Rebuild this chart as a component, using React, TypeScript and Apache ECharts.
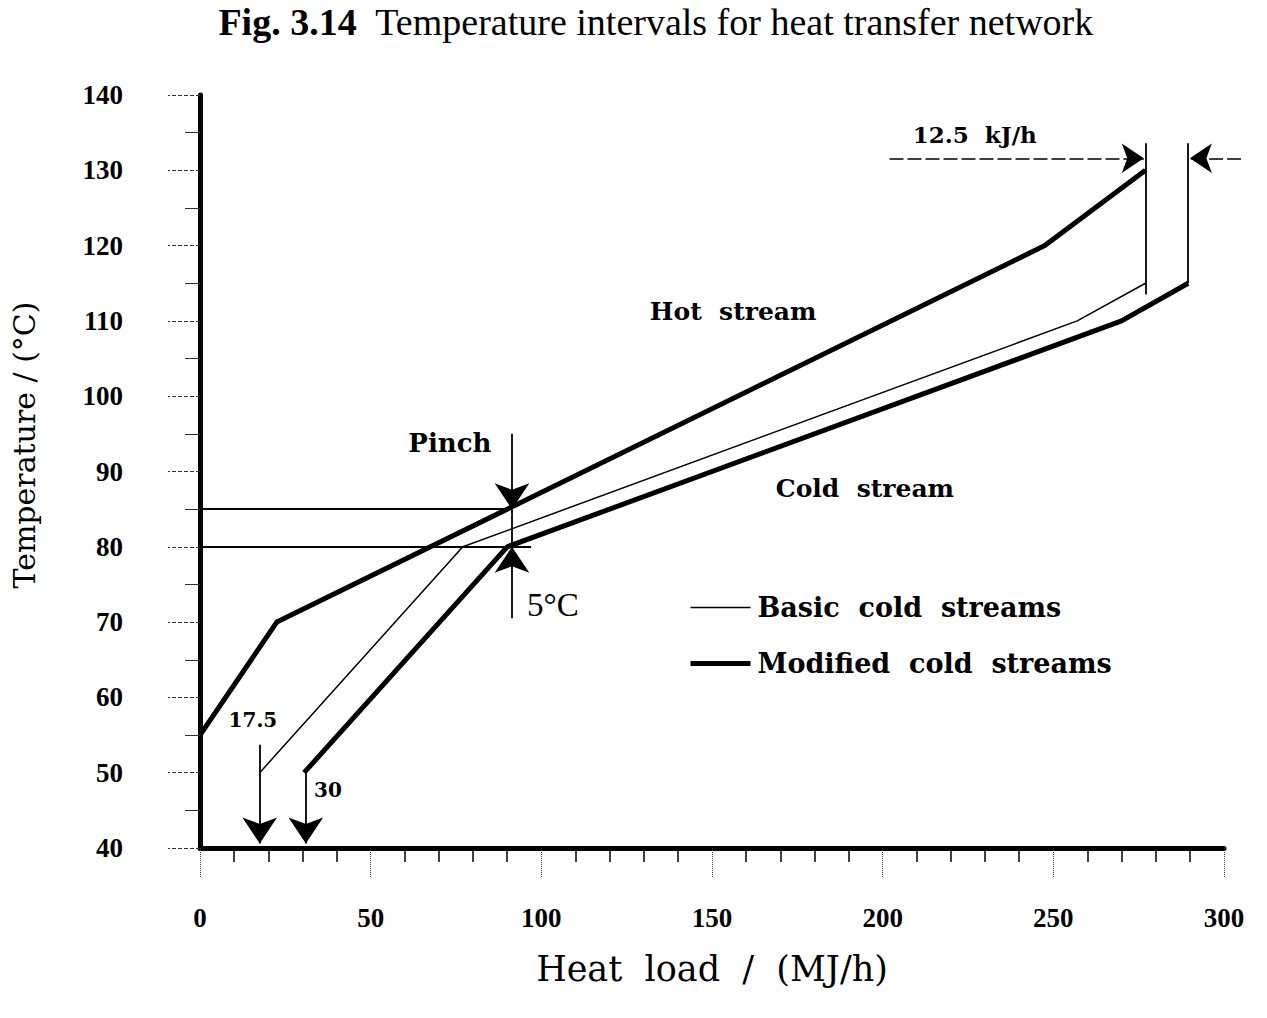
import React, { useEffect, useRef } from "react";
import * as echarts from "echarts";

const X_MIN = 0, X_MAX = 300, X_STEP = 50;
const Y_MIN = 40, Y_MAX = 140, Y_STEP = 10;

const seriesNames = ["Hot stream", "Basic  cold  streams", "Modified  cold  streams"];
const hotStream = [[0, 55], [22.5, 70], [90, 85], [247.5, 120], [277, 130]];
const basicCold = [[17.5, 50], [77, 80], [257, 110], [277, 115]];
const modifiedCold = [[30.5, 50], [90, 80], [270, 110], [289.5, 115]];

const pinchLevels = [[[0, 85], [91, 85]], [[0, 80], [97, 80]]];
const boundaryLines = [[[91.4, 85], [91.4, 80]], [[277, 113.5], [277, 133.6]], [[289.5, 115], [289.5, 133.6]]];
const bigArrows = [[[91.4, 95], [91.4, 85]], [[91.4, 70.5], [91.4, 80]], [[17.5, 53.7], [17.5, 40.6]], [[31, 50], [31, 40.6]]];
const topArrows = [[[202, 131.6], [276.5, 131.6]], [[305, 131.6], [290, 131.6]]];

const annotations = [
  { text: "Hot  stream", at: [156.2, 111.3], size: 25, font: "DejaVu Serif", weight: "bold", align: "center" },
  { text: "Cold  stream", at: [194.8, 87.7], size: 25, font: "DejaVu Serif", weight: "bold", align: "center" },
  { text: "Pinch", at: [73.2, 93.8], size: 26, font: "DejaVu Serif", weight: "bold", align: "center" },
  { text: "5°C", at: [95.8, 72.3], size: 33, font: "Liberation Serif", weight: "normal", align: "left" },
  { text: "12.5  kJ/h", at: [227, 134.8], size: 23, font: "DejaVu Serif", weight: "bold", align: "center" },
  { text: "17.5", at: [15.5, 57], size: 20, font: "DejaVu Serif", weight: "bold", align: "center" },
  { text: "30", at: [37.5, 47.7], size: 20, font: "DejaVu Serif", weight: "bold", align: "center" },
];

const TITLE_BOLD = "Fig. 3.14";
const TITLE_REST = "Temperature intervals for heat transfer network";
const X_NAME = "Heat  load  /  (MJ/h)";
const Y_NAME = "Temperature / (°C)";

export default function App() {
  const ref = useRef<HTMLDivElement>(null);
  useEffect(() => {
    if (!ref.current) return;
    const chart = echarts.init(ref.current, null, { renderer: "svg" });
    const lineStyleBase = { color: "#000", opacity: 1, curveness: 0 };
    const toLines = (arr: number[][][]) => arr.map((c) => ({ coords: c }));
    chart.setOption({
      animation: false,
      backgroundColor: "#fff",
      grid: { left: 200, top: 95, width: 1024, height: 753, containLabel: false },
      legend: {
        data: [
          { name: seriesNames[1], lineStyle: { width: 1.5, color: "#000" } },
          { name: seriesNames[2], lineStyle: { width: 5, color: "#000" } },
        ],
        orient: "vertical",
        left: 683,
        top: 589,
        itemWidth: 60,
        itemHeight: 4,
        itemGap: 29,
        itemStyle: { opacity: 0, borderWidth: 0 },
        textStyle: { fontFamily: "DejaVu Serif", fontWeight: "bold", fontSize: 27, color: "#000", padding: [0, 0, 0, 2] },
      },
      xAxis: {
        type: "value",
        min: X_MIN,
        max: X_MAX,
        interval: X_STEP,
        name: X_NAME,
        nameLocation: "middle",
        nameGap: 103,
        nameTextStyle: { fontFamily: "DejaVu Serif", fontSize: 35, color: "#000" },
        axisLine: { show: true, onZero: false, lineStyle: { color: "#000", width: 5 } },
        axisTick: { show: true, length: 30, lineStyle: { color: "#444", width: 1, type: "dotted" } },
        minorTick: { show: true, splitNumber: 5, length: 14, lineStyle: { color: "#000", width: 1.5 } },
        splitLine: { show: false },
        axisLabel: { margin: 56, fontFamily: "Liberation Serif", fontWeight: "bold", fontSize: 27, color: "#000" },
      },
      yAxis: {
        type: "value",
        min: Y_MIN,
        max: Y_MAX,
        interval: Y_STEP,
        axisLine: { show: true, onZero: false, lineStyle: { color: "#000", width: 5 } },
        axisTick: { show: true, length: 32, lineStyle: { color: "#333", width: 1, type: "dashed" } },
        minorTick: { show: true, splitNumber: 2, length: 15, lineStyle: { color: "#333", width: 1 } },
        splitLine: { show: false },
        axisLabel: { margin: 77, fontFamily: "Liberation Serif", fontWeight: "bold", fontSize: 27, color: "#000" },
      },
      series: [
        { name: seriesNames[0], type: "line", data: hotStream, symbol: "none", lineStyle: { color: "#000", width: 5 }, z: 5 },
        { name: seriesNames[1], type: "line", data: basicCold, symbol: "none", lineStyle: { color: "#000", width: 1.5 }, itemStyle: { color: "#000" }, z: 4 },
        { name: seriesNames[2], type: "line", data: modifiedCold, symbol: "none", lineStyle: { color: "#000", width: 5 }, itemStyle: { color: "#000" }, z: 5 },
        { type: "lines", coordinateSystem: "cartesian2d", clip: false, silent: true, data: toLines(pinchLevels), lineStyle: { ...lineStyleBase, width: 2 } },
        { type: "lines", coordinateSystem: "cartesian2d", clip: false, silent: true, data: toLines(boundaryLines), lineStyle: { ...lineStyleBase, width: 1.8 } },
        { type: "lines", coordinateSystem: "cartesian2d", clip: false, silent: true, symbol: ["none", "arrow"], symbolSize: 26, data: toLines(bigArrows), lineStyle: { ...lineStyleBase, width: 1.8 } },
        { type: "lines", coordinateSystem: "cartesian2d", clip: false, silent: true, symbol: ["none", "arrow"], symbolSize: 22, data: toLines(topArrows), lineStyle: { ...lineStyleBase, width: 1.5, type: [14, 4] } },
      ],
    });
    const graphics: any[] = [
      {
        type: "text",
        x: 656,
        y: 22,
        style: {
          text: "{b|" + TITLE_BOLD + "}  " + TITLE_REST,
          fontFamily: "Liberation Serif",
          fontSize: 38,
          fill: "#000",
          align: "center",
          verticalAlign: "middle",
          rich: { b: { fontFamily: "Liberation Serif", fontWeight: "bold", fontSize: 38, fill: "#000" } },
        },
      },
      {
        type: "text",
        x: 24,
        y: 445,
        rotation: Math.PI / 2,
        style: {
          text: Y_NAME,
          fontFamily: "DejaVu Serif",
          fontSize: 30,
          fill: "#000",
          align: "center",
          verticalAlign: "middle",
        },
      },
    ];
    annotations.forEach((a) => {
      const p = chart.convertToPixel({ gridIndex: 0 }, a.at) as number[];
      graphics.push({
        type: "text",
        x: p[0],
        y: p[1],
        style: {
          text: a.text,
          fontFamily: a.font,
          fontWeight: a.weight,
          fontSize: a.size,
          fill: "#000",
          align: a.align,
          verticalAlign: "middle",
        },
      });
    });
    chart.setOption({ graphic: graphics });
    return () => chart.dispose();
  }, []);
  return <div ref={ref} style={{ position: "absolute", left: 0, top: 0, width: 1267, height: 1018 }} />;
}
